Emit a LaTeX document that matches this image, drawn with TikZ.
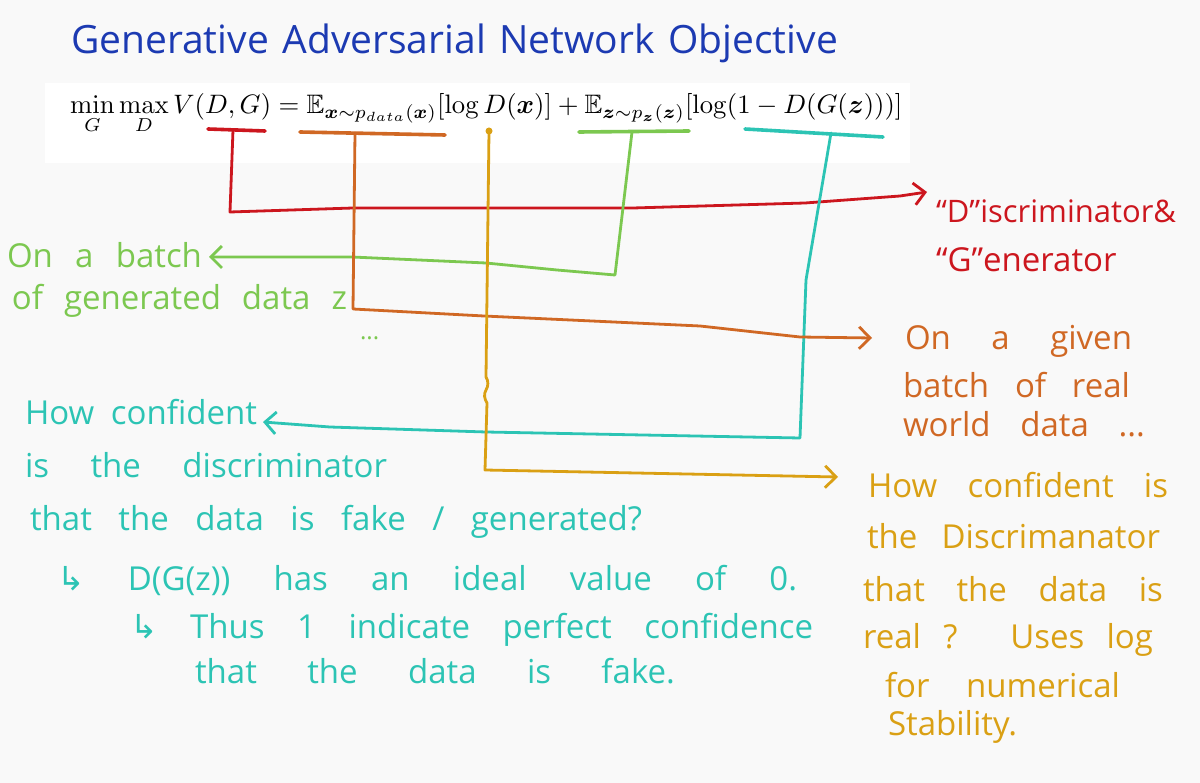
\documentclass[tikz,border=0pt]{standalone}
\usepackage{amsmath,amssymb,bm}
\usepackage[no-math]{fontspec}
\newfontfamily\hand{Open Sans}
\newfontfamily\symf{DejaVu Sans}
\usetikzlibrary{arrows.meta}
\definecolor{tblue}{RGB}{28,58,178}
\definecolor{cred}{RGB}{204,22,30}
\definecolor{corange}{RGB}{208,104,36}
\definecolor{cgold}{RGB}{218,160,20}
\definecolor{cgreen}{RGB}{124,200,80}
\definecolor{ccyan}{RGB}{44,196,180}
\definecolor{bg}{RGB}{249,249,249}
\newcommand\hwbox[2]{\makebox[#1][s]{#2}}
\tikzset{
  hw/.style={anchor=base west, inner sep=0pt, outer sep=0pt, font=\hand\fontsize{33}{36}\selectfont},
  wire/.style={line width=2.8pt, line cap=round, line join=round},
  uline/.style={line width=3.6pt, line cap=round},
  tip/.style={-{Straight Barb[length=11pt,width=22pt]}},
}
\begin{document}
\begin{tikzpicture}[x=1pt,y=-1pt]
\useasboundingbox (0,0) rectangle (1200,783);
\fill[bg] (0,0) rectangle (1200,783);
\fill[white] (45,83) rectangle (910,163);

% title
\node[hw, text=tblue, font=\hand\fontsize{39}{42}\selectfont] (title) at (71,54) {\hwbox{767pt}{Generative Adversarial Network Objective}};

% equation
\node[anchor=base west, inner sep=0pt] (eq) at (70,114) {\resizebox{832pt}{!}{$\displaystyle \min_{G}\max_{D} V(D,G)=\mathbb{E}_{\bm{x}\sim p_{data}(\bm{x})}[\log D(\bm{x})]+\mathbb{E}_{\bm{z}\sim p_{\bm{z}}(\bm{z})}[\log(1-D(G(\bm{z})))]$}};

% green text
\node[hw, text=cgreen] (g1) at (7,268) {\hwbox{195pt}{On a batch}};
\node[hw, text=cgreen] (g2) at (12,310) {\hwbox{335pt}{of generated data z}};
\node[hw, text=cgreen, font=\hand\fontsize{24}{26}\selectfont] (g3) at (360,340) {...};

% cyan text
\node[hw, text=ccyan] (c1) at (25,425) {\hwbox{232pt}{How confident}};
\node[hw, text=ccyan] (c2) at (25,478) {\hwbox{362pt}{is the discriminator}};
\node[hw, text=ccyan] (c3) at (30,530) {\hwbox{612pt}{that the data is fake / generated?}};
\node[hw, text=ccyan] (c4) at (57,590) {\hwbox{740pt}{{\symf ↳} D(G(z)) has an ideal value of 0.}};
\node[hw, text=ccyan] (c5) at (130,638) {\hwbox{683pt}{{\symf ↳} Thus 1 indicate perfect confidence}};
\node[hw, text=ccyan] (c6) at (195,683) {\hwbox{480pt}{that the data is fake.}};

% red text
\node[hw, text=cred, font=\hand\fontsize{31}{34}\selectfont] (rd1) at (936,223) {“D”iscriminator\&};
\node[hw, text=cred] (rd2) at (936,272) {“G”enerator};

% orange text
\node[hw, text=corange] (ro1) at (905,350) {\hwbox{227pt}{On a given}};
\node[hw, text=corange] (ro2) at (903,398) {\hwbox{227pt}{batch of real}};
\node[hw, text=corange] (ro3) at (903,437) {\hwbox{242pt}{world data ...}};

% gold text
\node[hw, text=cgold] (ry1) at (868,497) {\hwbox{300pt}{How confident is}};
\node[hw, text=cgold] (ry2) at (867,548) {\hwbox{293pt}{the Discrimanator}};
\node[hw, text=cgold] (ry3) at (863,601) {\hwbox{300pt}{that the data is}};
\node[hw, text=cgold] (ry4) at (863,648) {\hwbox{290pt}{real ? Uses log}};
\node[hw, text=cgold] (ry5) at (885,697) {\hwbox{235pt}{for numerical}};
\node[hw, text=cgold] (ry6) at (888,735) {Stability.};

% coordinates
\coordinate (rU1) at (208,129); \coordinate (rU2) at (265,131);
\coordinate (rJ) at (233,130); \coordinate (rC) at (230,212); \coordinate (rTip) at (927,192);
\coordinate (oU1) at (300,132); \coordinate (oU2) at (445,135);
\coordinate (oJ) at (355,133); \coordinate (oC) at (353,309); \coordinate (oTip) at (872,338);
\coordinate (yJ) at (489,131); \coordinate (yC) at (485,470); \coordinate (yTip) at (838,477);
\coordinate (gU1) at (579,132); \coordinate (gU2) at (689,131);
\coordinate (gJ) at (632,132); \coordinate (gC) at (615,275); \coordinate (gTip) at (209,257);
\coordinate (cU1) at (745,129); \coordinate (cU2) at (883,137);
\coordinate (cJ) at (831,133); \coordinate (cC) at (800,438); \coordinate (cTip) at (263,422);

% red
\draw[uline, cred] (rU1) -- (rU2);
\draw[wire, cred, tip] (rJ) -- (rC) -- (353,208) -- (633,208) -- (805,203) -- (900,196) -- (rTip);
% green
\draw[uline, cgreen] (gU1) -- (gU2);
\draw[wire, cgreen, tip] (gJ) -- (gC) -- (557,270) -- (486,263) -- (352,257) -- (gTip);
% cyan
\draw[uline, ccyan] (cU1) -- (cU2);
\draw[wire, ccyan, tip] (cJ) -- (806,280) -- (cC) -- (486,432) -- (330,427) -- (cTip);
% orange
\draw[uline, corange] (oU1) -- (oU2);
\draw[wire, corange, tip] (oJ) -- (oC) -- (484,316) -- (700,326) -- (800,337) -- (oTip);
% gold
\fill[cgold] (yJ) circle (3.5pt);
\draw[wire, cgold, tip] (yJ) -- (486,377) to[out=-60,in=60] (486,390) to[out=-120,in=120] (487,403) -- (yC) -- (yTip);
\end{tikzpicture}
\end{document}
